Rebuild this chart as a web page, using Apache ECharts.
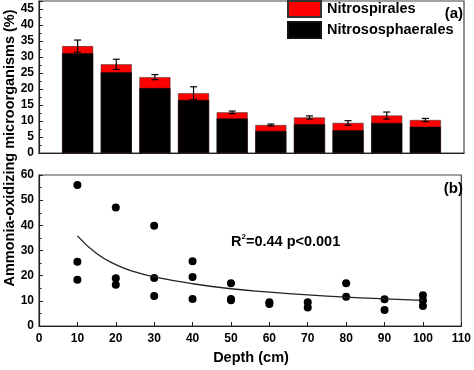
<!DOCTYPE html>
<html>
<head>
<meta charset="utf-8">
<script src="https://cdn.jsdelivr.net/npm/echarts@6/dist/echarts.min.js"></script>
<style>html,body{margin:0;padding:0;background:#fff;}#c{width:474px;height:370px;}</style>
</head>
<body>
<div id="c"></div>
<script>
// ---- Data ----
const depths = [10, 20, 30, 40, 50, 60, 70, 80, 90, 100];
const nitrososphaerales = [31.2, 25.2, 20.3, 16.6, 10.8, 6.9, 9.0, 7.1, 9.4, 8.2];
const nitrospirales = [2.2, 2.5, 3.4, 2.1, 1.9, 1.85, 2.1, 2.3, 2.3, 2.1];
const errorBars = [1.9, 1.6, 0.8, 2.0, 0.4, 0.3, 0.5, 0.7, 1.1, 0.5];

const scatterX = [10, 10, 10, 20, 20, 20, 30, 30, 30, 40, 40, 40, 50, 50, 50, 60, 60, 70, 70, 80, 80, 90, 90, 100, 100, 100];
const scatterY = [56.0, 25.5, 18.4, 47.1, 19.0, 16.4, 39.8, 19.1, 11.9, 25.7, 19.5, 10.7, 17.0, 10.7, 10.2, 9.4, 8.7, 9.4, 7.4, 17.0, 11.6, 10.6, 6.4, 12.2, 10.1, 7.9];

const fitX = [10, 15, 20, 25, 30, 40, 50, 60, 70, 80, 90, 100];
const fitY = [35.8, 28.8, 24.4, 21.5, 19.5, 16.8, 14.8, 13.5, 12.4, 11.5, 10.8, 10.2];

const topTicks = [0, 5, 10, 15, 20, 25, 30, 35, 40, 45];
const bottomYTicks = [0, 10, 20, 30, 40, 50, 60];
const xTicks = [0, 10, 20, 30, 40, 50, 60, 70, 80, 90, 100, 110];

const legendNames = ['Nitrospirales', 'Nitrososphaerales'];
const yTitle = 'Ammonia-oxidizing microorganisms (%)';
const xTitle = 'Depth (cm)';

// ---- Chart ----
const chart = echarts.init(document.getElementById('c'), null, {renderer: 'canvas'});
const FONT = 'Liberation Sans, Arial, sans-serif';
const AX = '#222';

const totals = nitrososphaerales.map((v, i) => v + nitrospirales[i]);
const errData = depths.map((d, i) => [d, totals[i] - errorBars[i], totals[i] + errorBars[i]]);

const option = {
  animation: false,
  backgroundColor: '#fff',
  grid: [
    {left: 39, right: 10, top: 1, height: 152, show: true, borderColor: '#444', borderWidth: 1.2, backgroundColor: 'transparent'},
    {left: 39, right: 10, top: 175, height: 151, show: true, borderColor: '#444', borderWidth: 1.2, backgroundColor: 'transparent'}
  ],
  legend: {
    data: legendNames,
    orient: 'vertical',
    left: 287, top: 0,
    padding: 0,
    itemWidth: 33, itemHeight: 16, itemGap: 3,
    icon: 'rect',
    textStyle: {fontFamily: FONT, fontWeight: 'bold', fontSize: 14.5, color: '#000', padding: [0, 0, 0, 1]},
    selectedMode: false
  },
  xAxis: [
    {type: 'value', gridIndex: 0, min: 0, max: 110, interval: 10,
     axisLine: {show: true, lineStyle: {color: AX, width: 1.2}},
     axisTick: {show: false}, axisLabel: {show: false}, splitLine: {show: false}},
    {type: 'value', gridIndex: 1, min: 0, max: 110, interval: 10,
     axisLine: {show: true, onZero: false, lineStyle: {color: AX, width: 1.2}},
     axisTick: {show: true, inside: true, length: 4, lineStyle: {color: AX, width: 1}},
     axisLabel: {show: true, margin: 7, fontFamily: FONT, fontWeight: 'bold', fontSize: 12, color: '#000',
                 formatter: v => xTicks.includes(v) ? String(v) : ''},
     splitLine: {show: false}}
  ],
  yAxis: [
    {type: 'value', gridIndex: 0, min: 0, max: 47.5, interval: 5,
     axisLine: {show: true, lineStyle: {color: AX, width: 1.2}},
     axisTick: {show: true, inside: true, length: 4, lineStyle: {color: AX, width: 1}},
     minorTick: {show: true, splitNumber: 2, length: 2.5, lineStyle: {color: AX, width: 1}},
     axisLabel: {show: true, margin: 5, showMaxLabel: false, fontFamily: FONT, fontWeight: 'bold', fontSize: 12, color: '#000',
                 formatter: v => topTicks.includes(v) ? String(v) : ''},
     splitLine: {show: false}},
    {type: 'value', gridIndex: 1, min: 0, max: 60, interval: 10,
     axisLine: {show: true, onZero: false, lineStyle: {color: AX, width: 1.2}},
     axisTick: {show: true, inside: true, length: 4, lineStyle: {color: AX, width: 1}},
     minorTick: {show: true, splitNumber: 2, length: 2.5, lineStyle: {color: AX, width: 1}},
     axisLabel: {show: true, margin: 5, fontFamily: FONT, fontWeight: 'bold', fontSize: 12, color: '#000',
                 formatter: v => bottomYTicks.includes(v) ? String(v) : ''},
     splitLine: {show: false}}
  ],
  series: [
    {name: 'Nitrospirales', type: 'bar', xAxisIndex: 0, yAxisIndex: 0, barWidth: 31, barGap: '-100%',
     itemStyle: {color: '#ff0000', borderColor: '#333', borderWidth: 0.5},
     data: depths.map((d, i) => [d, totals[i]])},
    {name: 'Nitrososphaerales', type: 'bar', xAxisIndex: 0, yAxisIndex: 0, barWidth: 31, barGap: '-100%',
     itemStyle: {color: '#000', borderColor: '#111', borderWidth: 0.5},
     data: depths.map((d, i) => [d, nitrososphaerales[i]])},
    {name: 'err', type: 'custom', xAxisIndex: 0, yAxisIndex: 0, z: 10,
     data: errData,
     renderItem: function (params, api) {
       const x = api.value(0);
       const lo = api.coord([x, api.value(1)]);
       const hi = api.coord([x, api.value(2)]);
       const cw = 3.5;
       const st = {stroke: '#000', lineWidth: 1.2};
       return {type: 'group', children: [
         {type: 'line', shape: {x1: lo[0], y1: lo[1], x2: hi[0], y2: hi[1]}, style: st},
         {type: 'line', shape: {x1: hi[0] - cw, y1: hi[1], x2: hi[0] + cw, y2: hi[1]}, style: st},
         {type: 'line', shape: {x1: lo[0] - cw, y1: lo[1], x2: lo[0] + cw, y2: lo[1]}, style: st}
       ]};
     }},
    {name: 'points', type: 'scatter', xAxisIndex: 1, yAxisIndex: 1, symbolSize: 8,
     itemStyle: {color: '#000', opacity: 1},
     data: scatterX.map((x, i) => [x, scatterY[i]])},
    {name: 'fit', type: 'line', xAxisIndex: 1, yAxisIndex: 1, smooth: true, showSymbol: false, symbol: 'none',
     lineStyle: {color: '#222', width: 1.3},
     data: fitX.map((x, i) => [x, fitY[i]])}
  ],
  graphic: [
    {type: 'text', x: 10, y: 148, rotation: Math.PI / 2,
     style: {text: yTitle, fontFamily: FONT, fontWeight: 'bold', fontSize: 14.5, fill: '#000', align: 'center', verticalAlign: 'middle'}},
    {type: 'text', x: 251, y: 358,
     style: {text: xTitle, fontFamily: FONT, fontWeight: 'bold', fontSize: 14.5, fill: '#000', align: 'center', verticalAlign: 'middle'}},
    {type: 'text', x: 463, y: 14,
     style: {text: '(a)', fontFamily: FONT, fontWeight: 'bold', fontSize: 15, fill: '#000', align: 'right', verticalAlign: 'middle'}},
    {type: 'text', x: 463, y: 189,
     style: {text: '(b)', fontFamily: FONT, fontWeight: 'bold', fontSize: 15, fill: '#000', align: 'right', verticalAlign: 'middle'}},
    {type: 'text', x: 231, y: 241,
     style: {
       text: '{a|R}{s|2}{a|=0.44 p<0.001}',
       rich: {
         a: {fontFamily: FONT, fontWeight: 'bold', fontSize: 14.5, fill: '#000', color: '#000', verticalAlign: 'bottom', lineHeight: 16},
         s: {fontFamily: FONT, fontWeight: 'bold', fontSize: 8, fill: '#000', color: '#000', verticalAlign: 'top', lineHeight: 16}
       },
       align: 'left', verticalAlign: 'middle'}}
  ]
};
chart.setOption(option);
</script>
</body>
</html>
